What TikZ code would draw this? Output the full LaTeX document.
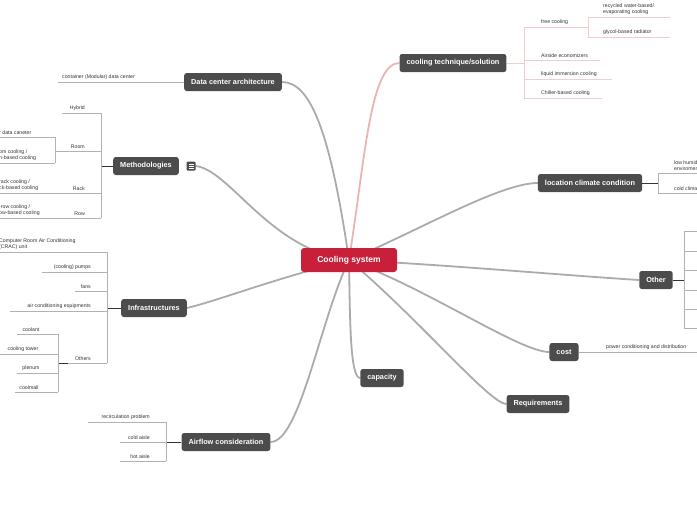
\documentclass[tikz,border=0pt]{standalone}
\usepackage{fontspec}
\setmainfont{Liberation Sans}
\usetikzlibrary{backgrounds}
\begin{document}
\begin{tikzpicture}[x=1pt,y=-1pt,
  topic/.style={fill=black!70,rounded corners=2.5pt,text=white,font=\fontsize{7.3}{8}\selectfont\bfseries,inner xsep=7pt,inner ysep=0pt,minimum height=18pt},
  root/.style={fill={rgb,255:red,200;green,32;blue,58},rounded corners=3pt,text=white,font=\fontsize{8.5}{9}\selectfont\bfseries,minimum width=96pt,minimum height=24pt},
  br/.style={draw=black!33,line width=1.8pt},
  pk/.style={draw={rgb,255:red,235;green,180;blue,180},line width=1.8pt},
  ln/.style={draw=black!30,line width=0.5pt},
  pl/.style={draw={rgb,255:red,242;green,205;blue,205},line width=0.5pt},
  hk/.style={draw=black!80,line width=0.9pt},
  lab/.style={font=\fontsize{5.2}{6}\selectfont,text=black!80,inner sep=0pt,align=left}]
\useasboundingbox (0,0) rectangle (697,520);
\node[root] (c) at (349,260) {Cooling system};
\node[topic] (dca) at (233,82) {Data center architecture};
\node[topic] (met) at (146,166) {Methodologies};
\node[topic] (inf) at (154,308) {Infrastructures};
\node[topic] (air) at (226,442) {Airflow consideration};
\node[topic] (cap) at (382,378) {capacity};
\node[topic] (req) at (538,404) {Requirements};
\node[topic] (cost) at (564,352) {cost};
\node[topic] (oth) at (656,280) {Other};
\node[topic] (loc) at (590,183) {location climate condition};
\node[topic] (cts) at (453,63) {cooling technique/solution};
\node[fill=black!70,rounded corners=1pt,minimum width=9pt,minimum height=9pt,inner sep=0pt] (menu) at (191,166) {};
\foreach \yy in {-2,0,2} \draw[white,line width=0.5pt] ([xshift=-2.5pt,yshift=\yy pt]menu.center) -- ++(5,0);
\begin{scope}[on background layer]
\draw[br] (c.center) .. controls (330,130) and (310,82) .. (dca.east);
\draw[br] (c.center) .. controls (270,250) and (230,170) .. (menu.east);
\draw[br] (c.center) .. controls (270,280) and (220,300) .. (inf.east);
\draw[br] (c.center) .. controls (320,320) and (300,442) .. (air.east);
\draw[br] (c.center) .. controls (350,320) and (350,378) .. (cap.west);
\draw[br] (c.center) .. controls (420,320) and (490,404) .. (req.west);
\draw[br] (c.center) .. controls (430,290) and (520,352) .. (cost.west);
\draw[br] (c.center) .. controls (450,265) and (560,275) .. (oth.west);
\draw[br] (c.center) .. controls (420,230) and (500,183) .. (loc.west);
\draw[pk] (c.center) .. controls (365,160) and (370,63) .. (cts.west);
\end{scope}
% Data center architecture
\draw[ln] (dca.west) -- (58,82);
\node[lab,anchor=south west] at (62,80) {container (Modular) data center};
% Methodologies
\coordinate (mb) at (101,166);
\draw[hk] (met.west) -- (mb);
\draw[ln] (101,113) -- (101,218);
\draw[ln] (101,113) -- (62,113); \node[lab,anchor=south east] at (85,111) {Hybrid};
\draw[ln] (101,151) -- (55,151); \node[lab,anchor=south east] at (85,149) {Room};
\draw[ln] (101,193) -- (0,193); \node[lab,anchor=south east] at (85,191) {Rack};
\draw[ln] (101,218) -- (0,218); \node[lab,anchor=south east] at (85,216) {Row};
\draw[ln] (55,137) -- (55,163);
\draw[ln] (55,137) -- (0,137); \node[lab,anchor=south west] at (-1,135) {r data caneter};
\draw[ln] (55,163) -- (0,163); \node[lab,anchor=south west] at (-1,161) {om cooling /\\n-based cooling};
\node[lab,anchor=south west] at (-1,191) {rack cooling /\\ck-based cooling};
\node[lab,anchor=south west] at (-1,216) {-row cooling /\\ow-based cooling};
% Infrastructures
\draw[hk] (inf.west) -- (107,308);
\draw[ln] (107,252) -- (107,363);
\draw[ln] (107,252) -- (0,252); \node[lab,anchor=south west] at (-1,250) {Computer Room Air Conditioning\\(CRAC) unit};
\draw[ln] (107,272) -- (42,272); \node[lab,anchor=south east] at (91,270) {(cooling) pumps};
\draw[ln] (107,291) -- (75,291); \node[lab,anchor=south east] at (91,289) {fans};
\draw[ln] (107,311) -- (10,311); \node[lab,anchor=south east] at (91,309) {air conditioning equipments};
\draw[ln] (107,363) -- (68,363); \node[lab,anchor=south east] at (91,361) {Others};
\draw[hk] (68,363) -- (58,363);
\draw[ln] (58,334) -- (58,392);
\draw[ln] (58,334) -- (17,334); \node[lab,anchor=south] at (31,332) {coolant};
\draw[ln] (58,354) -- (0,354); \node[lab,anchor=south] at (23,352) {cooling tower};
\draw[ln] (58,373) -- (17,373); \node[lab,anchor=south] at (31,371) {plenum};
\draw[ln] (58,392) -- (15,392); \node[lab,anchor=south] at (29,390) {coolmall};
% Airflow
\draw[hk] (air.west) -- (166,442);
\draw[ln] (166,422) -- (166,461);
\draw[ln] (166,422) -- (88,422); \node[lab,anchor=south east] at (150,420) {recirculation problem};
\draw[ln] (166,442) -- (120,442); \node[lab,anchor=south east] at (150,440) {cold aisle};
\draw[ln] (166,461) -- (120,461); \node[lab,anchor=south east] at (150,459) {hot aisle};
% cooling technique
\draw[pl] (cts.east) -- (524,63);
\draw[pl] (524,27) -- (524,98);
\draw[pl] (524,27) -- (588,27); \node[lab,anchor=south west] at (541,25) {free cooling};
\draw[pl] (524,60) -- (600,60); \node[lab,anchor=south west] at (541,58) {Airside economizers};
\draw[pl] (524,79) -- (612,79); \node[lab,anchor=south west] at (541,77) {liquid immersion cooling};
\draw[pl] (524,98) -- (602,98); \node[lab,anchor=south west] at (541,96) {Chiller-based cooling};
\draw[pl] (588,17) -- (588,37);
\draw[pl] (588,17) -- (670,17); \node[lab,anchor=south west] at (603,15) {recycled water-based/\\evaporating cooling};
\draw[pl] (588,37) -- (670,37); \node[lab,anchor=south west] at (603,35) {glycol-based radiator};
% location
\draw[hk] (loc.east) -- (658,183);
\draw[ln] (658,173) -- (658,193);
\draw[ln] (658,173) -- (697,173); \node[lab,anchor=south west] at (674,171) {low humidity\\enviroment};
\draw[ln] (658,193) -- (697,193); \node[lab,anchor=south west] at (674,191) {cold climate};
% Other
\draw[hk] (oth.east) -- (684,280);
\draw[ln] (684,231) -- (684,328);
\foreach \yy in {231,251,270,290,309,328} \draw[ln] (684,\yy) -- (697,\yy);
% cost
\draw[ln] (cost.east) -- (697,352);
\node[lab,anchor=south west] at (606,350) {power conditioning and distribution};
\end{tikzpicture}
\end{document}
